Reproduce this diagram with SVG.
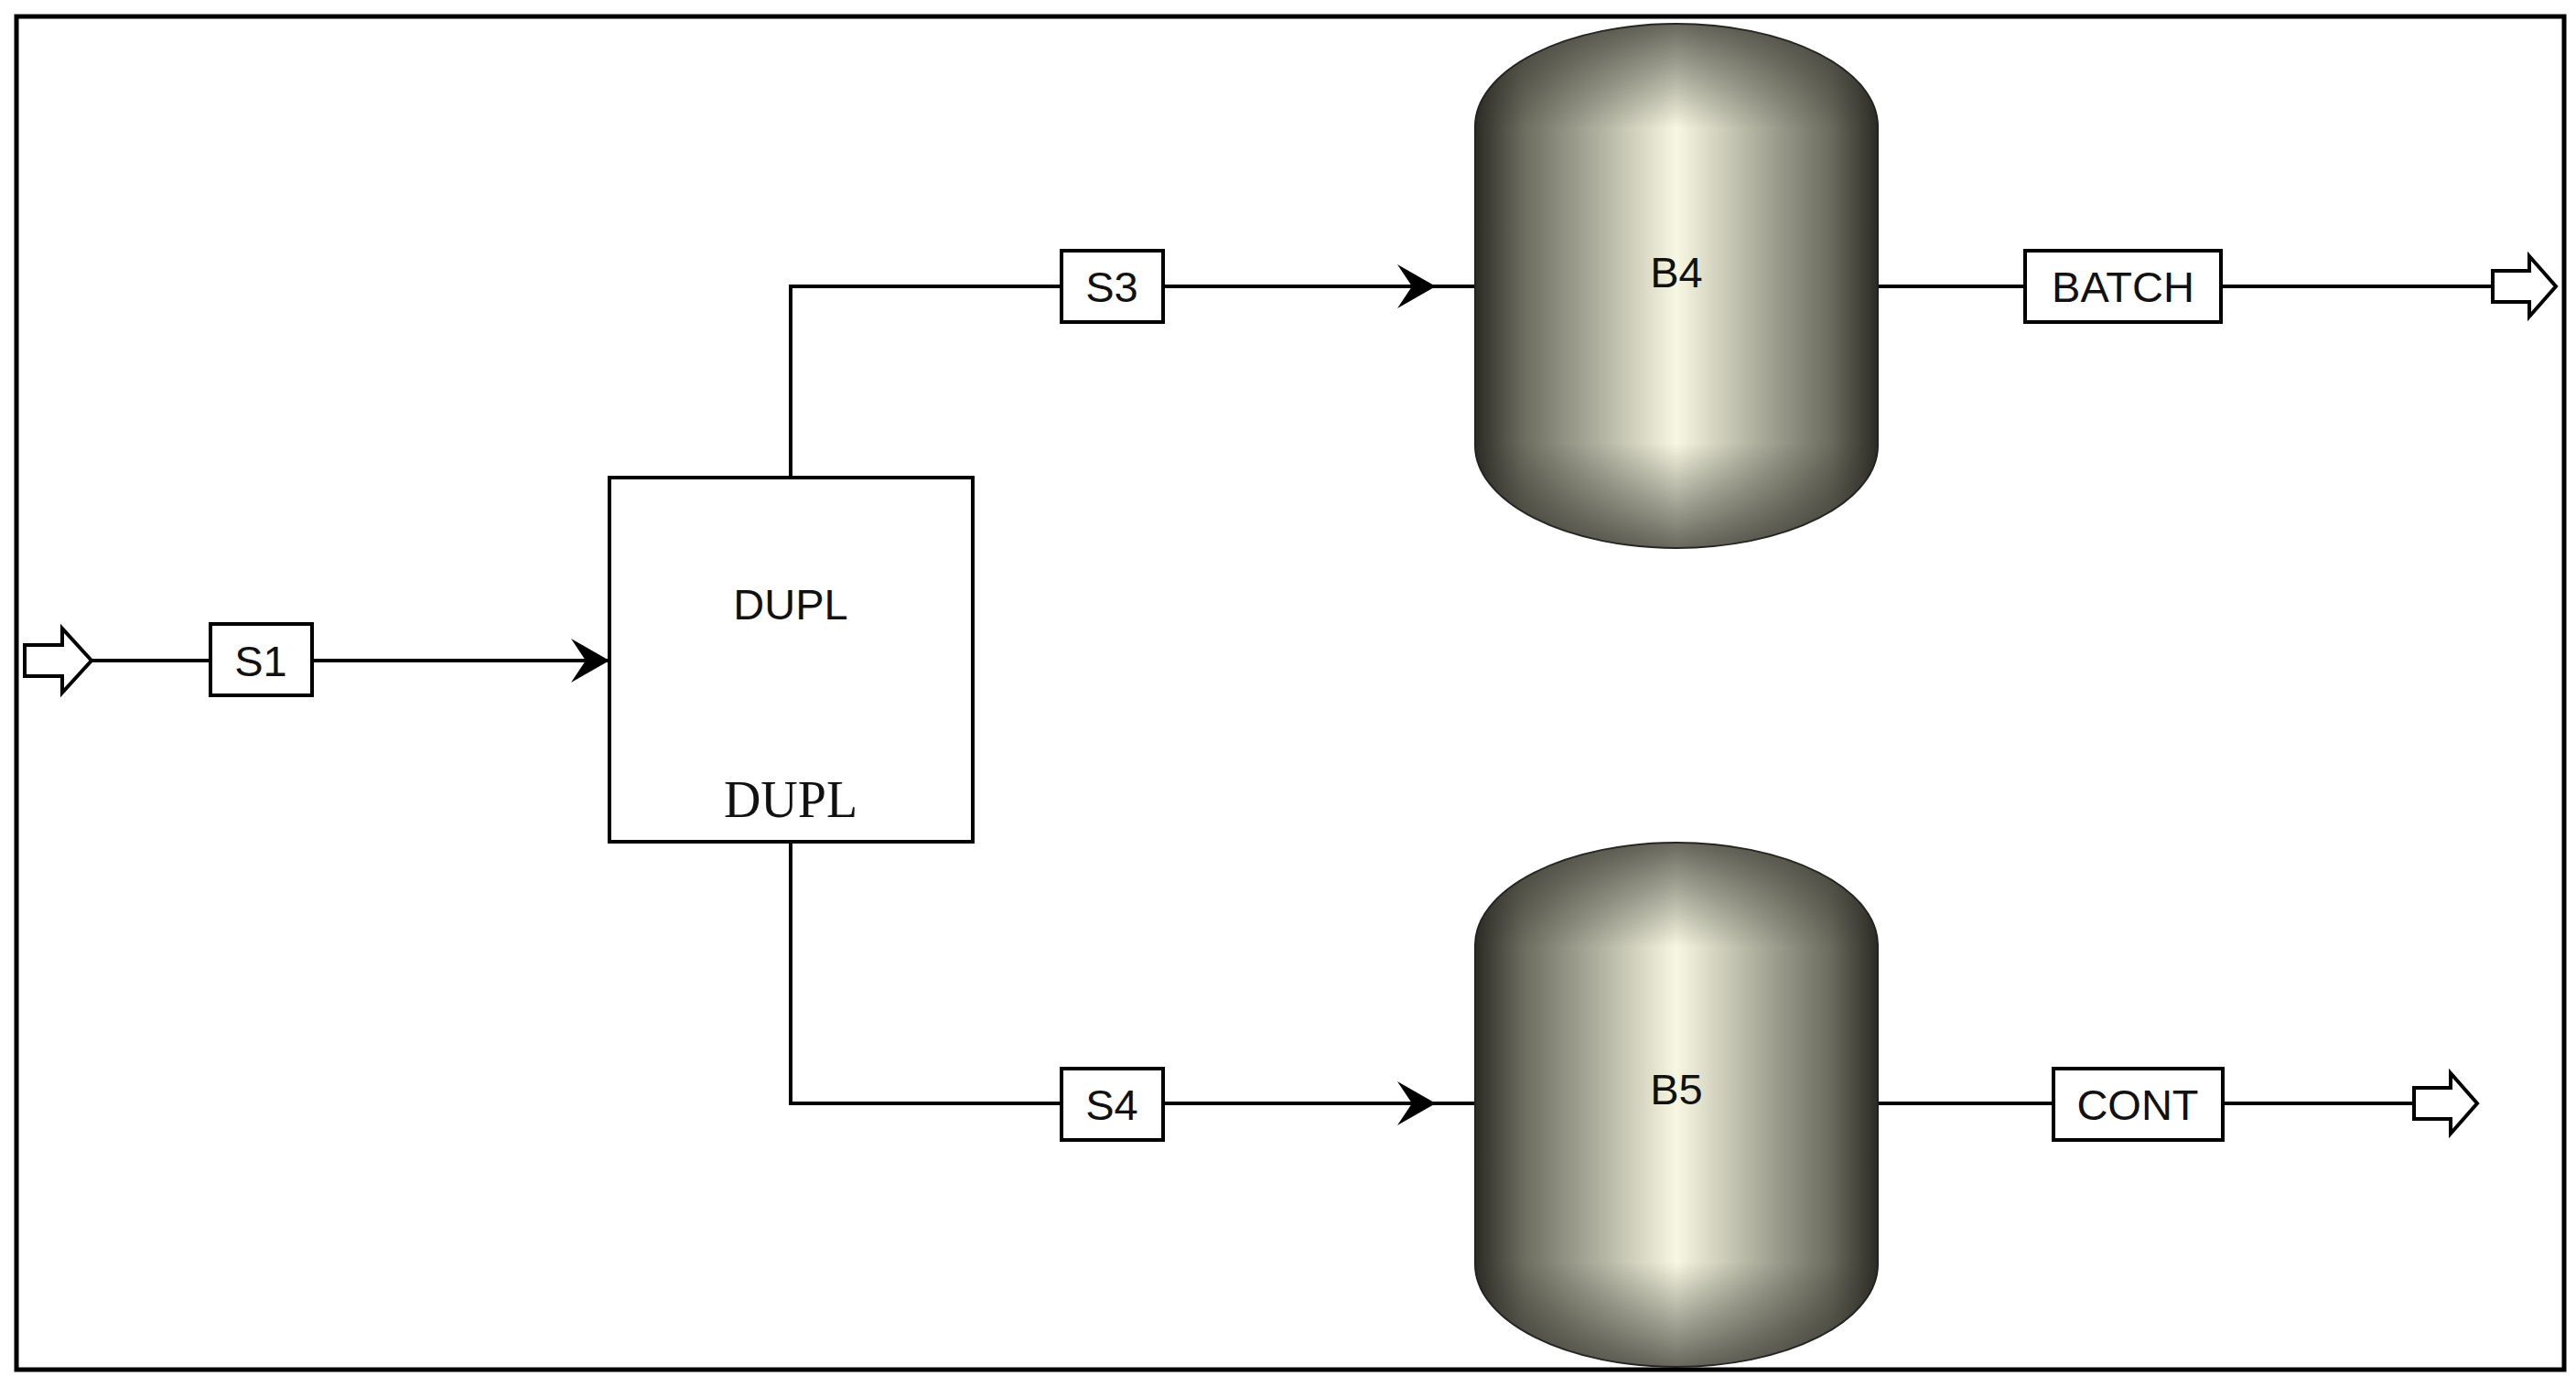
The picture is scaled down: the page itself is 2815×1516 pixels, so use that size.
<svg xmlns="http://www.w3.org/2000/svg" width="2815" height="1516" viewBox="0 0 2815 1516">
<style>
.ln{fill:none;stroke:#000;stroke-width:4}
.lbl{fill:#fff;stroke:#000;stroke-width:4}
.t{font-family:"Liberation Sans",Arial,sans-serif;font-size:47px;text-anchor:middle;fill:#111}
.ser{font-family:"Liberation Serif","Times New Roman",serif;font-size:56px;text-anchor:middle;fill:#111}
.port{fill:#fff;stroke:#000;stroke-width:4;stroke-linejoin:miter}
.vessel{fill:url(#vg);stroke:#222;stroke-width:2}
.shade{fill:url(#vs);stroke:none}
.ah{fill:#000}
</style>
<defs>
<linearGradient id="vg" x1="0" y1="0" x2="1" y2="0">
<stop offset="0" stop-color="#2b2b25"/>
<stop offset="0.12" stop-color="#6c6c5f"/>
<stop offset="0.5" stop-color="#f7f7e2"/>
<stop offset="0.88" stop-color="#6c6c5f"/>
<stop offset="1" stop-color="#2b2b25"/>
</linearGradient>
<linearGradient id="vs" x1="0" y1="0" x2="0" y2="1">
<stop offset="0" stop-color="#2b2b25" stop-opacity="0.7"/>
<stop offset="0.2" stop-color="#2b2b25" stop-opacity="0"/>
<stop offset="0.8" stop-color="#2b2b25" stop-opacity="0"/>
<stop offset="1" stop-color="#2b2b25" stop-opacity="0.7"/>
</linearGradient>
</defs>
<rect x="18" y="18" width="2784" height="1479" fill="#fff" stroke="#000" stroke-width="5"/>
<g id="connectors">
<path class="ln" d="M100,722 H666"/>
<path class="ah" d="M666,722 L624,698 L640,722 L624,746 Z"/>
<path class="ln" d="M864,522 V313 H1612"/>
<path class="ah" d="M1569,313 L1527,289 L1543,313 L1527,337 Z"/>
<path class="ln" d="M864,920 V1206 H1612"/>
<path class="ah" d="M1569,1206 L1527,1182 L1543,1206 L1527,1230 Z"/>
<path class="ln" d="M2052,313 H2724"/>
<path class="ln" d="M2052,1206 H2638"/>
</g>
<g id="feed">
<path class="port" d="M27,705 H68 V687 L100,722 L68,757 V739 H27 Z"/>
</g>
<g id="S1"><rect class="lbl" x="230" y="682" width="111" height="78"/><text class="t" x="285" y="739">S1</text></g>
<g id="DUPL">
<rect x="666" y="522" width="397" height="398" fill="#fff" stroke="#000" stroke-width="4"/>
<text class="t" x="864" y="677">DUPL</text>
<text class="ser" x="864" y="893">DUPL</text>
</g>
<g id="S3"><rect class="lbl" x="1160" y="274" width="111" height="78"/><text class="t" x="1215" y="330">S3</text></g>
<g id="S4"><rect class="lbl" x="1160" y="1168" width="111" height="78"/><text class="t" x="1215" y="1224">S4</text></g>
<g id="B4">
<path class="vessel" d="M1612,138 A220,112 0 0 1 2052,138 V487 A220,112 0 0 1 1612,487 Z"/>
<path class="shade" d="M1612,138 A220,112 0 0 1 2052,138 V487 A220,112 0 0 1 1612,487 Z"/>
<text class="t" x="1832" y="314">B4</text>
</g>
<g id="B5">
<path class="vessel" d="M1612,1033 A220,112 0 0 1 2052,1033 V1382 A220,112 0 0 1 1612,1382 Z"/>
<path class="shade" d="M1612,1033 A220,112 0 0 1 2052,1033 V1382 A220,112 0 0 1 1612,1382 Z"/>
<text class="t" x="1832" y="1207">B5</text>
</g>
<g id="BATCH"><rect class="lbl" x="2213" y="274" width="214" height="78"/><text class="t" x="2320" y="330">BATCH</text></g>
<g id="CONT"><rect class="lbl" x="2244" y="1168" width="185" height="78"/><text class="t" x="2336" y="1224">CONT</text></g>
<g id="out-batch"><path class="port" d="M2724,296 H2764 V280 L2793,313 L2764,346 V330 H2724 Z"/></g>
<g id="out-cont"><path class="port" d="M2638,1189 H2678 V1173 L2707,1206 L2678,1239 V1223 H2638 Z"/></g>
</svg>
